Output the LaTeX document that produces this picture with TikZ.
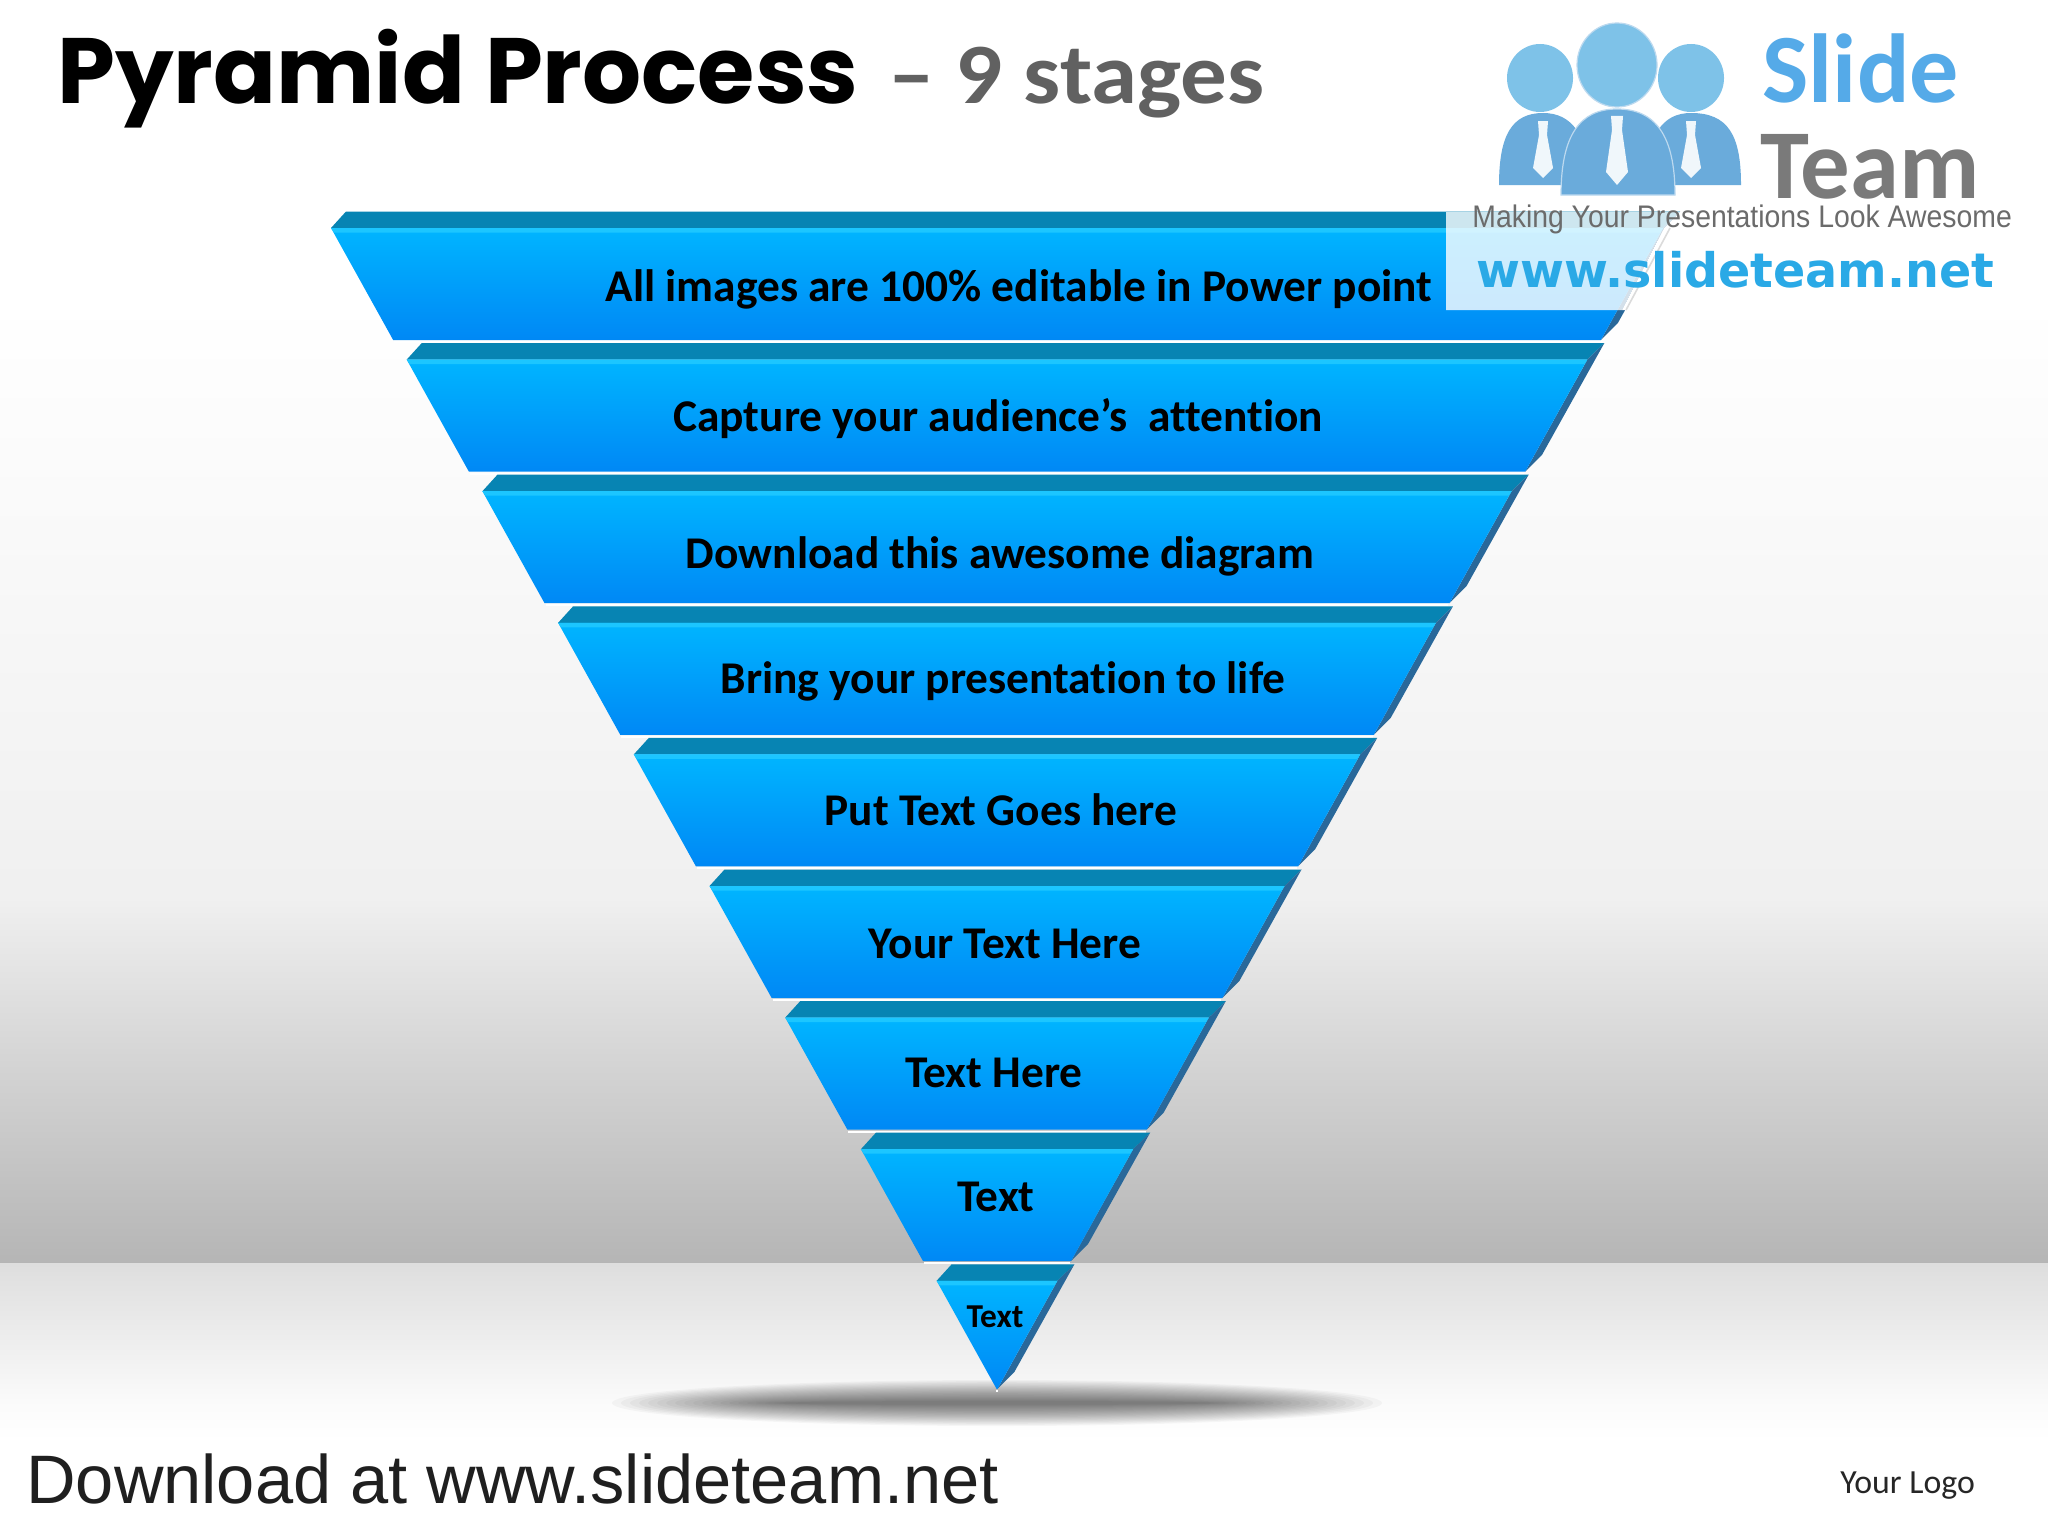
\documentclass[tikz,border=0pt]{standalone}
\usepackage{fontspec}
\setmainfont[Ligatures=CommonOff]{Carlito}
\newfontfamily\titlefont{Poppins}
\newfontfamily\arialfont{Liberation Sans}
\newfontfamily\dejafont{DejaVu Sans}
\definecolor{bandtop}{HTML}{0784B3}
\definecolor{bandhi}{HTML}{1CC6FF}
\definecolor{bandA}{HTML}{00B5FF}
\definecolor{bandM}{HTML}{00A8FD}
\definecolor{bandB}{HTML}{0088F5}
\definecolor{bandside}{HTML}{29689A}
\definecolor{logoblue}{HTML}{55AAE8}
\definecolor{logobody}{HTML}{6AABDB}
\definecolor{logohead}{HTML}{7EC2E8}
\definecolor{logogrey}{HTML}{7A7A7A}
\definecolor{webblue}{HTML}{2AA9E6}
\tikzset{
  bandlabel/.style={font=\bfseries\fontsize{#1}{#1}\selectfont,text=black,anchor=base,inner sep=0pt},
  freetext/.style={anchor=base west,inner sep=0pt},
  person/.style={fill=logobody,draw=none},
  tie/.style={fill=white!90!logobody,draw=none}
}
\newcommand{\grad}[4]{\shade[top color=#3,bottom color=#4] (0,#1) rectangle (2048,#2);}
% band: index, bottom height
\newcommand{\band}[2]{%
  \pgfmathsetmacro{\xl}{331+75.7*#1}
  \pgfmathsetmacro{\xr}{1663-75.7*#1}
  \pgfmathsetmacro{\yf}{228+131.6*#1}
  \pgfmathsetmacro{\yb}{\yf+#2}
  \pgfmathsetmacro{\xbl}{\xl+0.555*#2}
  \pgfmathsetmacro{\xbr}{\xr-0.555*#2}
  \coordinate (fl#1) at (\xl,\yf);
  \coordinate (fr#1) at (\xr,\yf);
  \coordinate (bl#1) at (\xbl,\yb);
  \coordinate (br#1) at (\xbr,\yb);
  \fill[bandtop] (fl#1) -- ++(15,-16.5) -- ($(fr#1)+(17,-16.5)$) -- (fr#1) -- cycle;
  \fill[bandside] (fr#1) -- ++(17,-16.5) -- ($(br#1)+(17,-17)$) -- (br#1) -- cycle;
  \shade[top color=bandA,middle color=bandM,bottom color=bandB] (fl#1) -- (fr#1) -- (br#1) -- (bl#1) -- cycle;
  \fill[bandhi] (fl#1) -- (fr#1) -- ($(fr#1)+(-3,4.5)$) -- ($(fl#1)+(3,4.5)$) -- cycle;
  \draw[white,line width=1pt] ($(bl#1)+(1,2)$) -- ($(br#1)+(-1,2)$);
}
\usetikzlibrary{calc}
\begin{document}
\begin{tikzpicture}[x=0.5pt,y=-0.5pt]
\useasboundingbox (0,0) rectangle (2048,1536);
% background
\fill[white] (0,0) rectangle (2048,1536);
\grad{300}{900}{white}{black!6}
\grad{899}{1050}{black!6}{black!16}
\grad{1049}{1264}{black!16}{black!29}
\grad{1263}{1400}{black!13}{black!2}
\grad{1399}{1440}{black!2}{white}
% shadow
\foreach \k in {0,...,19}
  \fill[black,opacity=0.032] (997,1403) ellipse [x radius={385-9*\k},y radius={23-1.1*\k}];
% bands
\band{0}{112}\band{1}{112}\band{2}{112}\band{3}{112}\band{4}{112}\band{5}{112}\band{6}{112}\band{7}{112}\band{8}{108}
% labels
\node[bandlabel=22.7] (t0) at (1019,301) {All images are 100\% editable in Power point};
\node[bandlabel=22.7] (t1) at (998,431) {Capture your audience’s\ \ attention};
\node[bandlabel=22.7] (t2) at (1000,568) {Download this awesome diagram};
\node[bandlabel=22.7] (t3) at (1003,693) {Bring your presentation to life};
\node[bandlabel=22.7] (t4) at (1001,825) {Put Text Goes here};
\node[bandlabel=22.7] (t5) at (1005,958) {Your Text Here};
\node[bandlabel=22.7] (t6) at (994,1087) {Text Here};
\node[bandlabel=22.7] (t7) at (996,1211) {Text};
\node[bandlabel=16.7] (t8) at (995,1327) {Text};
% logo background over the top band: translucent panel, opaque beyond it
\fill[white] (1664,228) -- (1680,212) -- (1700,212) -- (1700,310) -- (1622,310) -- cycle;
\fill[white,opacity=0.8] (1446,212) -- (1680,212) -- (1664,228) -- (1622,310) -- (1446,310) -- cycle;
\draw[black!14,line width=0.8pt] (1670,228) -- (1626,310);
% title
\node[freetext,font=\titlefont\bfseries\fontsize{46.4}{46.4}\selectfont,text=black] (title) at (57,104) {Pyramid Process};
\node[freetext,font=\bfseries\fontsize{43}{43}\selectfont,text=black!62] (title2) at (888,104) {\resizebox{188pt}{\height}{– 9 stages}};
% logo
\fill[logohead] (1540,78) ellipse [x radius=33,y radius=34];
\fill[logohead] (1691,78) ellipse [x radius=33,y radius=34];
\fill[person] (1499,185) .. controls (1499,135) and (1512,113) .. (1543,113) .. controls (1572,113) and (1588,135) .. (1592,185) -- cycle;
\fill[person] (1741,185) .. controls (1741,135) and (1728,113) .. (1691,113) .. controls (1662,113) and (1648,135) .. (1643,185) -- cycle;
\draw[white!55!logobody,line width=0.6pt,fill=logohead] (1617,65) ellipse [x radius=40,y radius=42];
\draw[white!55!logobody,line width=0.6pt,fill=logobody] (1561,195) .. controls (1561,135) and (1580,109) .. (1617,109) .. controls (1655,109) and (1675,135) .. (1675,195) -- cycle;
\fill[tie] (1611,116) -- (1623,116) -- (1622,130) -- (1628,172) -- (1617,185) -- (1606,172) -- (1612,130) -- cycle;
\fill[tie] (1538,121) -- (1548,121) -- (1547,135) -- (1553,168) -- (1543,178) -- (1533,168) -- (1539,135) -- cycle;
\fill[tie] (1686,121) -- (1696,121) -- (1695,135) -- (1701,168) -- (1691,178) -- (1681,168) -- (1687,135) -- cycle;
\node[freetext,font=\bfseries\fontsize{49}{49}\selectfont,text=logoblue] (slide) at (1762,103) {Slide};
\node[freetext,font=\bfseries\fontsize{49.4}{49.4}\selectfont,text=logogrey] (team) at (1760,198) {Team};
\node[freetext,font=\arialfont\fontsize{15.6}{15.6}\selectfont,text=black!58] (making) at (1472,227) {\resizebox{269.7pt}{\height}{Making Your Presentations Look Awesome}};
\node[freetext,font=\dejafont\bfseries\fontsize{23.8}{23.8}\selectfont,text=webblue] (web) at (1476,287) {www.slideteam.net};
% footer
\node[freetext,font=\arialfont\fontsize{34.3}{34.3}\selectfont,text=black!88] (dl) at (26,1503) {Download at www.slideteam.net};
\node[freetext,font=\fontsize{16.9}{16.9}\selectfont,text=black!85] (yl) at (1840,1493) {Your Logo};
\end{tikzpicture}
\end{document}
